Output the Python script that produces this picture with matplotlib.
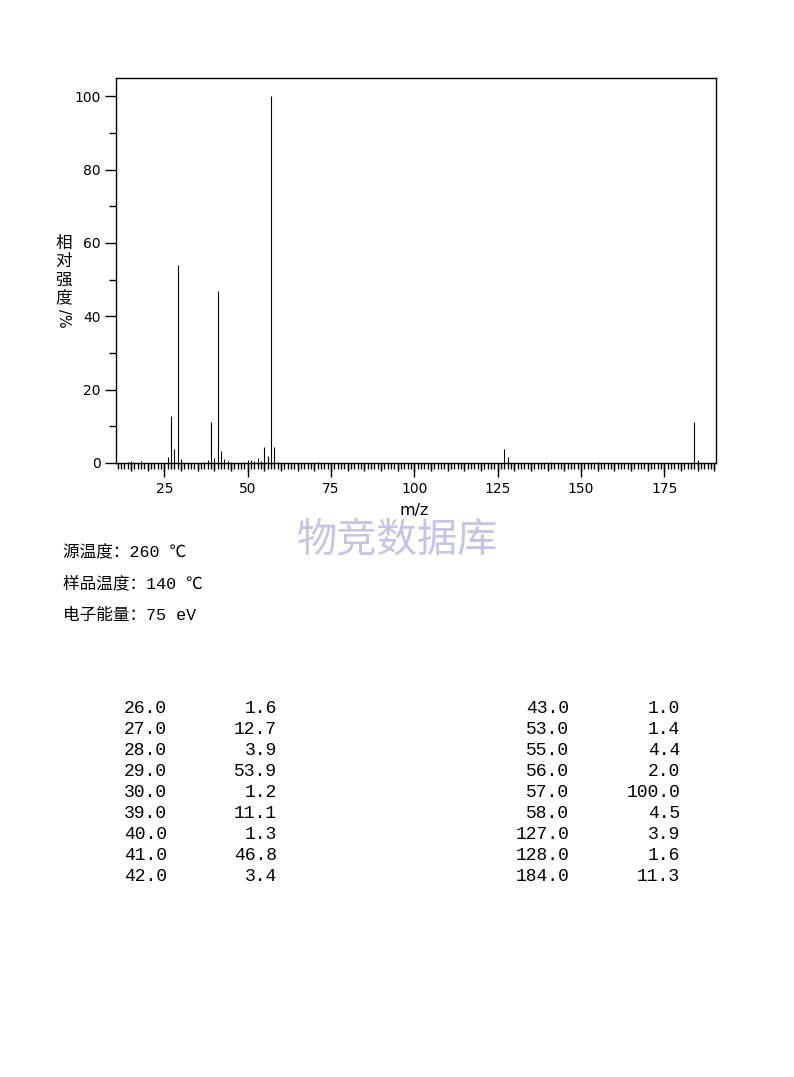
import matplotlib
matplotlib.use("Agg")
import matplotlib.pyplot as plt
from matplotlib.ticker import MultipleLocator, FixedLocator

# ---- data ----
table_mz = [26.0, 27.0, 28.0, 29.0, 30.0, 39.0, 40.0, 41.0, 42.0,
            43.0, 53.0, 55.0, 56.0, 57.0, 58.0, 127.0, 128.0, 184.0]
table_int = [1.6, 12.7, 3.9, 53.9, 1.2, 11.1, 1.3, 46.8, 3.4,
             1.0, 1.4, 4.4, 2.0, 100.0, 4.5, 3.9, 1.6, 11.3]
# minor peaks visible in the spectrum but not listed in the table
minor_mz = [14, 15, 18, 37, 38, 44, 45, 49, 50, 51, 52, 54, 59, 71, 141, 155, 185]
minor_int = [0.3, 0.6, 0.5, 0.4, 0.9, 0.5, 0.3, 0.4, 0.9, 0.9, 0.5, 0.6, 0.4, 0.3, 0.3, 0.3, 0.8]

info_lines = ["源温度：260 ℃", "样品温度：140 ℃", "电子能量：75 eV"]
x_major = [25, 50, 75, 100, 125, 150, 175]
y_major = [0, 20, 40, 60, 80, 100]

W, H = 794, 1077
fig = plt.figure(figsize=(W / 100, H / 100), dpi=100)

def fx(px):
    return px / W

def fy(py):
    return 1 - py / H

ax = fig.add_axes([fx(116), fy(463), fx(716) - fx(116), fy(78) - fy(463)])
ax.set_xlim(10.5, 190.5)
ax.set_ylim(0, 105)

ax.vlines(minor_mz, 0, minor_int, color="black", linewidth=0.8)
ax.vlines(table_mz, 0, table_int, color="black", linewidth=0.8)

for s in ax.spines.values():
    s.set_linewidth(1.0)

ax.xaxis.set_major_locator(FixedLocator(x_major))
ax.xaxis.set_minor_locator(MultipleLocator(1))
ax.set_xticklabels([str(v) for v in x_major])
ax.yaxis.set_major_locator(FixedLocator(y_major))
ax.yaxis.set_minor_locator(MultipleLocator(10))
ax.tick_params(axis="x", which="major", length=10, width=1, direction="out", labelsize=10, pad=4)
ax.tick_params(axis="x", which="minor", length=4, width=1, direction="out")
ax.tick_params(axis="y", which="major", length=8, width=1, direction="out", labelsize=10, pad=3)
ax.tick_params(axis="y", which="minor", length=5, width=1, direction="out")

# medium ticks every 5
sec = ax.secondary_xaxis("bottom")
sec.xaxis.set_major_locator(MultipleLocator(5))
sec.tick_params(length=6, width=1, labelbottom=False)
sec.spines["bottom"].set_visible(False)

fig.text(fx(414), fy(510), "m/z", ha="center", va="center", fontsize=11.5, family="DejaVu Sans")

# y label stacked characters
ylab_chars = ["相", "对", "强", "度"]
for i, c in enumerate(ylab_chars):
    fig.text(fx(64), fy(243 + i * 18.5), c, ha="center", va="center", fontsize=12,
             family=["Noto Sans CJK SC", "DejaVu Sans"])
fig.text(fx(64), fy(318), "/%", ha="center", va="center", fontsize=10.5, rotation=-90,
         family="DejaVu Sans")

# watermark
fig.text(fx(397), fy(540), "物竞数据库", ha="center", va="center", fontsize=29,
         color=(0.77, 0.77, 0.91), family=["Noto Sans CJK SC", "DejaVu Sans"])

for i, line in enumerate(info_lines):
    fig.text(fx(63), fy(557 + i * 31.5), line, ha="left", va="baseline", fontsize=12,
             family=["Liberation Mono", "Noto Sans CJK SC", "DejaVu Sans"])

# peak table
n = 9
for i in range(len(table_mz)):
    col = i // n
    row = i % n
    y = fy(713 + row * 21)
    xm = 167 if col == 0 else 569
    xi = 277 if col == 0 else 680
    fig.text(fx(xm), y, f"{table_mz[i]:.1f}", ha="right", va="baseline", fontsize=13,
             family="Liberation Mono")
    fig.text(fx(xi), y, f"{table_int[i]:.1f}", ha="right", va="baseline", fontsize=13,
             family="Liberation Mono")

fig.savefig("out.png", dpi=100)
